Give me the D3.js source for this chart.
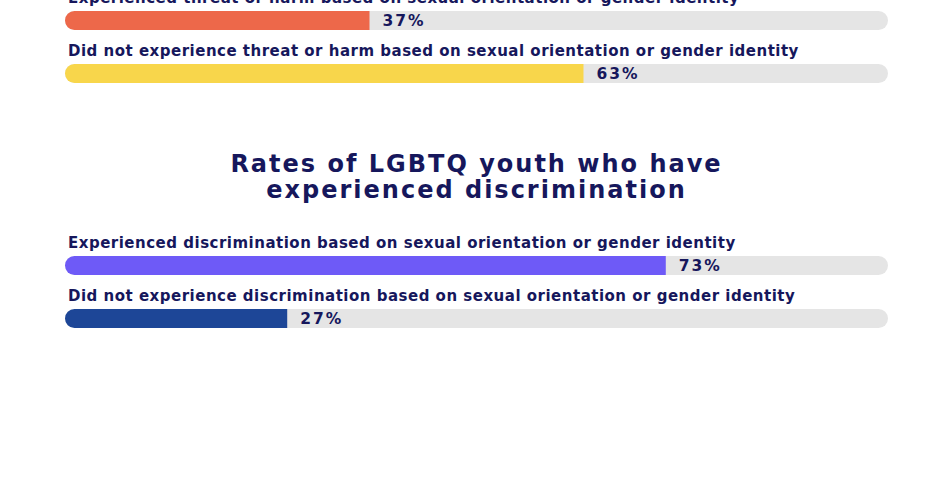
<!DOCTYPE html>
<html>
<head>
<meta charset="utf-8">
<script src="https://cdn.jsdelivr.net/npm/d3@7"></script>
<style>
  body { margin: 0; background: #fff; }
  text { font-family: "DejaVu Sans", sans-serif; font-weight: bold; fill: #16175c; }
</style>
</head>
<body>
<svg id="drawspace" width="930" height="488"></svg>
<script>
let drawSpace = d3.select("#drawspace");

// threat / harm block (top, partly cut off)
let threatLabels = [
  "Experienced threat or harm based on sexual orientation or gender identity",
  "Did not experience threat or harm based on sexual orientation or gender identity"
];
let threatValues = [37, 63];
let threatColors = ["#ed684a", "#f8d64b"];

// discrimination block
let discTitle = ["Rates of LGBTQ youth who have", "experienced discrimination"];
let discLabels = [
  "Experienced discrimination based on sexual orientation or gender identity",
  "Did not experience discrimination based on sexual orientation or gender identity"
];
let discValues = [73, 27];
let discColors = ["#6e5af7", "#1d4697"];

let x = d3.scaleLinear().domain([0, 100]).range([65, 888]);
let barH = 19;
let r = barH / 2;

function drawBlock(labels, values, colors, top) {
  let y = d3.scaleBand().domain(d3.range(labels.length))
    .range([top, top + 53 * labels.length]).paddingInner(0).paddingOuter(0);

  let g = drawSpace.append("g");
  let rows = g.selectAll("g").data(labels).enter().append("g");

  rows.append("text")
    .attr("x", 68)
    .attr("y", (d, i) => y(i) - 8)
    .attr("font-size", 15)
    .attr("letter-spacing", 0.5)
    .text(d => d);

  // track
  rows.append("rect")
    .attr("x", x(0))
    .attr("y", (d, i) => y(i))
    .attr("width", x(100) - x(0))
    .attr("height", barH)
    .attr("rx", r)
    .attr("fill", "#e5e5e5");

  // fill: rounded left end, square right end
  rows.append("path")
    .attr("fill", (d, i) => colors[i])
    .attr("d", (d, i) => {
      let x0 = x(0), x1 = x(values[i]), y0 = y(i);
      return `M${x0 + r},${y0} H${x1} V${y0 + barH} H${x0 + r} A${r},${r} 0 0 1 ${x0 + r},${y0} Z`;
    });

  rows.append("text")
    .attr("x", (d, i) => x(values[i]) + 13)
    .attr("y", (d, i) => y(i) + barH / 2)
    .attr("dy", "0.36em")
    .attr("font-size", 15.5)
    .attr("letter-spacing", 2)
    .text((d, i) => values[i] + "%");
}

drawBlock(threatLabels, threatValues, threatColors, 11);

drawSpace.append("g").selectAll("text").data(discTitle).enter().append("text")
  .attr("x", (x(0) + x(100)) / 2)
  .attr("y", (d, i) => 172 + i * 26)
  .attr("text-anchor", "middle")
  .attr("font-size", 24)
  .attr("letter-spacing", 2)
  .text(d => d);

drawBlock(discLabels, discValues, discColors, 256);
</script>
</body>
</html>
